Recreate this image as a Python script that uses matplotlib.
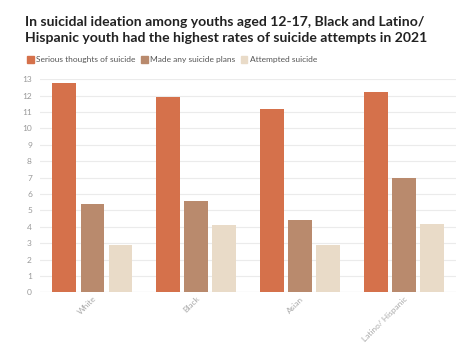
import numpy as np
import matplotlib.pyplot as plt
from matplotlib.patches import Patch

plt.rcParams['font.family'] = ['Lato', 'DejaVu Sans']

groups = ['White', 'Black', 'Asian', 'Latino/ Hispanic']
series = ['Serious thoughts of suicide', 'Made any suicide plans', 'Attempted suicide']
serious = [12.8, 11.9, 11.2, 12.2]
plans = [5.4, 5.6, 4.4, 7.0]
attempted = [2.9, 4.1, 2.9, 4.2]
colors = ['#d5714b', '#b98a6d', '#e9dbc8']

fig = plt.figure(figsize=(4.74, 3.48), dpi=100)
ax = fig.add_axes([0.085, 0.16, 0.877, 0.612])

x = np.arange(len(groups))
width = 0.226
step = 0.27
for i, (vals, c) in enumerate(zip([serious, plans, attempted], colors)):
    ax.bar(x + (i - 1) * step, vals, width, color=c, zorder=3)

ax.set_xlim(-0.5, len(groups) - 0.5)
ax.set_ylim(0, 13)
ax.set_yticks(range(0, 14))
ax.grid(axis='y', color='#ebebeb', linewidth=0.8, zorder=0)
for s in ax.spines.values():
    s.set_visible(False)
ax.axhline(0, color='#dddddd', linewidth=0.8, zorder=2)
ax.tick_params(axis='y', length=0, labelsize=6, labelcolor='#999999', pad=6)
ax.tick_params(axis='x', length=0, labelsize=6, labelcolor='#aaaaaa', pad=2)
ax.set_xticks(x)
ax.set_xticklabels(groups, rotation=45, ha='right', rotation_mode='anchor')

fig.text(0.053, 0.955, 'In suicidal ideation among youths aged 12-17, Black and Latino/\n'
         'Hispanic youth had the highest rates of suicide attempts in 2021',
         fontsize=10.1, fontweight='bold', color='#222222', va='top', linespacing=1.4)

handles = [Patch(color=c) for c in colors]
fig.legend(handles, series, loc='upper left', bbox_to_anchor=(0.042, 0.862), ncol=3,
           frameon=False, fontsize=6, handlelength=0.75, handleheight=1.0,
           handletextpad=0.3, columnspacing=0.7, labelcolor='#555555')

fig.savefig('out.png', dpi=100, facecolor='white')
